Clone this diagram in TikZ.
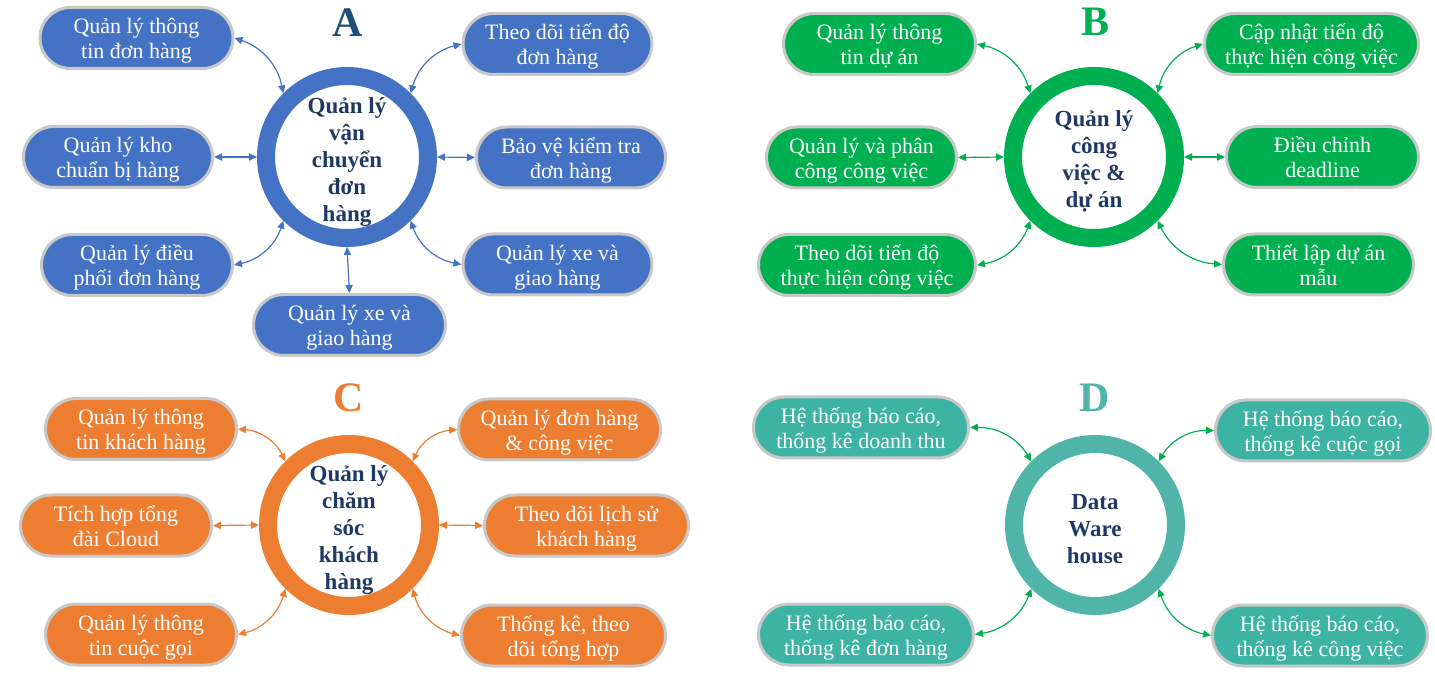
\documentclass[tikz,border=0pt]{standalone}
\usepackage{fontspec}
\setmainfont{Liberation Serif}
\usetikzlibrary{arrows.meta}
\definecolor{blueA}{HTML}{4472C4}
\definecolor{greenB}{HTML}{00B050}
\definecolor{orangeC}{HTML}{ED7D31}
\definecolor{tealBox}{HTML}{3DB3A4}
\definecolor{tealRing}{HTML}{50B4A9}
\definecolor{navyT}{HTML}{1F3864}
\definecolor{navyA}{HTML}{1F4E79}
\definecolor{bordergray}{HTML}{C8C8C8}
\newcommand{\twol}[2]{\begin{tabular}{@{}c@{}}#1\\#2\end{tabular}}
\tikzset{
  box/.style={rectangle, rounded corners=15.25pt, draw=bordergray, fill=#1, line width=1.5pt,
    minimum height=30.5pt, inner sep=0pt, text=white, text height=10.5pt, text depth=2pt,
    font=\fontsize{11}{12.5}\selectfont},
  bw/.style={minimum width={(#1-3)*0.5pt}},
  ring/.style={circle, draw=#1, line width=9pt, minimum size=81pt, inner sep=0pt, outer sep=4.5pt},
  ctext/.style={align=center, text=navyT, inner sep=0pt, font=\fontsize{11.5}{13.5}\selectfont\bfseries},
  letter/.style={text=#1, inner sep=0pt, font=\fontsize{21}{24}\selectfont\bfseries},
  conn/.style={draw=#1, line width=0.6pt, {Triangle[length=4pt,width=3.6pt]}-{Triangle[length=4pt,width=3.6pt]}}
}
\begin{document}
\begin{tikzpicture}[x=0.5pt,y=-0.5pt]
\useasboundingbox (0,0) rectangle (1435,689);
% ---------------- A ----------------
\node[letter=navyA] (LA) at (348,23) {A};
\node[ring=blueA] (ra) at (347,157) {};
\node[ctext] (ta) at (347,162) {Quản lý\\vận\\chuyển\\đơn\\hàng};
\node[box=blueA, bw=196] (a1) at (136.5,38) {\twol{Quản lý thông}{tin đơn hàng}};
\node[box=blueA, bw=192] (a2) at (118,157) {\twol{Quản lý kho}{chuẩn bị hàng}};
\node[box=blueA, bw=194] (a3) at (137,265) {\twol{Quản lý điều}{phối đơn hàng}};
\node[box=blueA, bw=192] (a4) at (557.5,44) {\twol{Theo dõi tiến độ}{đơn hàng}};
\node[box=blueA, bw=192] (a5) at (571,157.5) {\twol{Bảo vệ kiểm tra}{đơn hàng}};
\node[box=blueA, bw=192] (a6) at (557.5,264.5) {\twol{Quản lý xe và}{giao hàng}};
\node[box=blueA, bw=195] (a7) at (349.5,325) {\twol{Quản lý xe và}{giao hàng}};
\draw[conn=blueA] (a1.east) to[bend left=30] (ra.135);
\draw[conn=blueA] (a2.east) -- (ra.west);
\draw[conn=blueA] (a3.east) to[bend right=30] (ra.225);
\draw[conn=blueA] (a4.west) to[bend right=30] (ra.45);
\draw[conn=blueA] (a5.west) -- (ra.east);
\draw[conn=blueA] (a6.west) to[bend left=30] (ra.315);
\draw[conn=blueA] (a7.north) -- (ra.south);
% ---------------- B ----------------
\node[letter=greenB] (LB) at (1095,22) {B};
\node[ring=greenB] (rb) at (1094,157) {};
\node[ctext] (tb) at (1094,161) {Quản lý\\công\\việc \&\\dự án};
\node[box=greenB, bw=195] (b1) at (879.5,44) {\twol{Quản lý thông}{tin dự án}};
\node[box=greenB, bw=193] (b2) at (861.5,157.5) {\twol{Quản lý và phân}{công công việc}};
\node[box=greenB, bw=220] (b3) at (867,265) {\twol{Theo dõi tiến độ}{thực hiện công việc}};
\node[box=greenB, bw=217] (b4) at (1311.5,44) {\twol{Cập nhật tiến độ}{thực hiện công việc}};
\node[box=greenB, bw=195] (b5) at (1322.5,157) {\twol{Điều chỉnh}{deadline}};
\node[box=greenB, bw=193] (b6) at (1318.5,264.5) {\twol{Thiết lập dự án}{mẫu}};
\draw[conn=greenB] (b1.east) to[bend left=30] (rb.135);
\draw[conn=greenB] (b2.east) -- (rb.west);
\draw[conn=greenB] (b3.east) to[bend right=30] (rb.225);
\draw[conn=greenB] (b4.west) to[bend right=30] (rb.45);
\draw[conn=greenB] (b5.west) -- (rb.east);
\draw[conn=greenB] (b6.west) to[bend left=30] (rb.315);
% ---------------- C ----------------
\node[letter=orangeC] (LC) at (349,398) {C};
\node[ring=orangeC] (rc) at (349,525) {};
\node[ctext] (tc) at (349,530) {Quản lý\\chăm\\sóc\\khách\\hàng};
\node[box=orangeC, bw=194] (c1) at (141,429) {\twol{Quản lý thông}{tin khách hàng}};
\node[box=orangeC, bw=194] (c2) at (116,525.5) {\twol{Tích hợp tổng}{đài Cloud}};
\node[box=orangeC, bw=194] (c3) at (141,634.5) {\twol{Quản lý thông}{tin cuộc gọi}};
\node[box=orangeC, bw=205] (c4) at (559.5,429.5) {\twol{Quản lý đơn hàng}{\& công việc}};
\node[box=orangeC, bw=207] (c5) at (586.5,525.5) {\twol{Theo dõi lịch sử}{khách hàng}};
\node[box=orangeC, bw=207] (c6) at (563.5,635.5) {\twol{Thống kê, theo}{dõi tổng hợp}};
\draw[conn=orangeC] (c1.east) to[bend left=30] (rc.135);
\draw[conn=orangeC] (c2.east) -- (rc.west);
\draw[conn=orangeC] (c3.east) to[bend right=30] (rc.225);
\draw[conn=orangeC] (c4.west) to[bend right=30] (rc.45);
\draw[conn=orangeC] (c5.west) -- (rc.east);
\draw[conn=orangeC] (c6.west) to[bend left=30] (rc.315);
% ---------------- D ----------------
\node[letter=tealRing] (LD) at (1095,398) {D};
\node[ring=tealRing] (rd) at (1095,525) {};
\node[ctext] (td) at (1095,529) {Data\\Ware\\house};
\node[box=tealBox, bw=218] (d1) at (861,427.5) {\twol{Hệ thống báo cáo,}{thống kê doanh thu}};
\node[box=tealBox, bw=218] (d2) at (1323,430.5) {\twol{Hệ thống báo cáo,}{thống kê cuộc gọi}};
\node[box=tealBox, bw=218] (d3) at (866,634.5) {\twol{Hệ thống báo cáo,}{thống kê đơn hàng}};
\node[box=tealBox, bw=218] (d4) at (1320,635.5) {\twol{Hệ thống báo cáo,}{thống kê công việc}};
\draw[conn=greenB] (d1.east) to[bend left=30] (rd.135);
\draw[conn=greenB] (d3.east) to[bend right=30] (rd.225);
\draw[conn=greenB] (d2.west) to[bend right=30] (rd.45);
\draw[conn=greenB] (d4.west) to[bend left=30] (rd.315);
\end{tikzpicture}
\end{document}
